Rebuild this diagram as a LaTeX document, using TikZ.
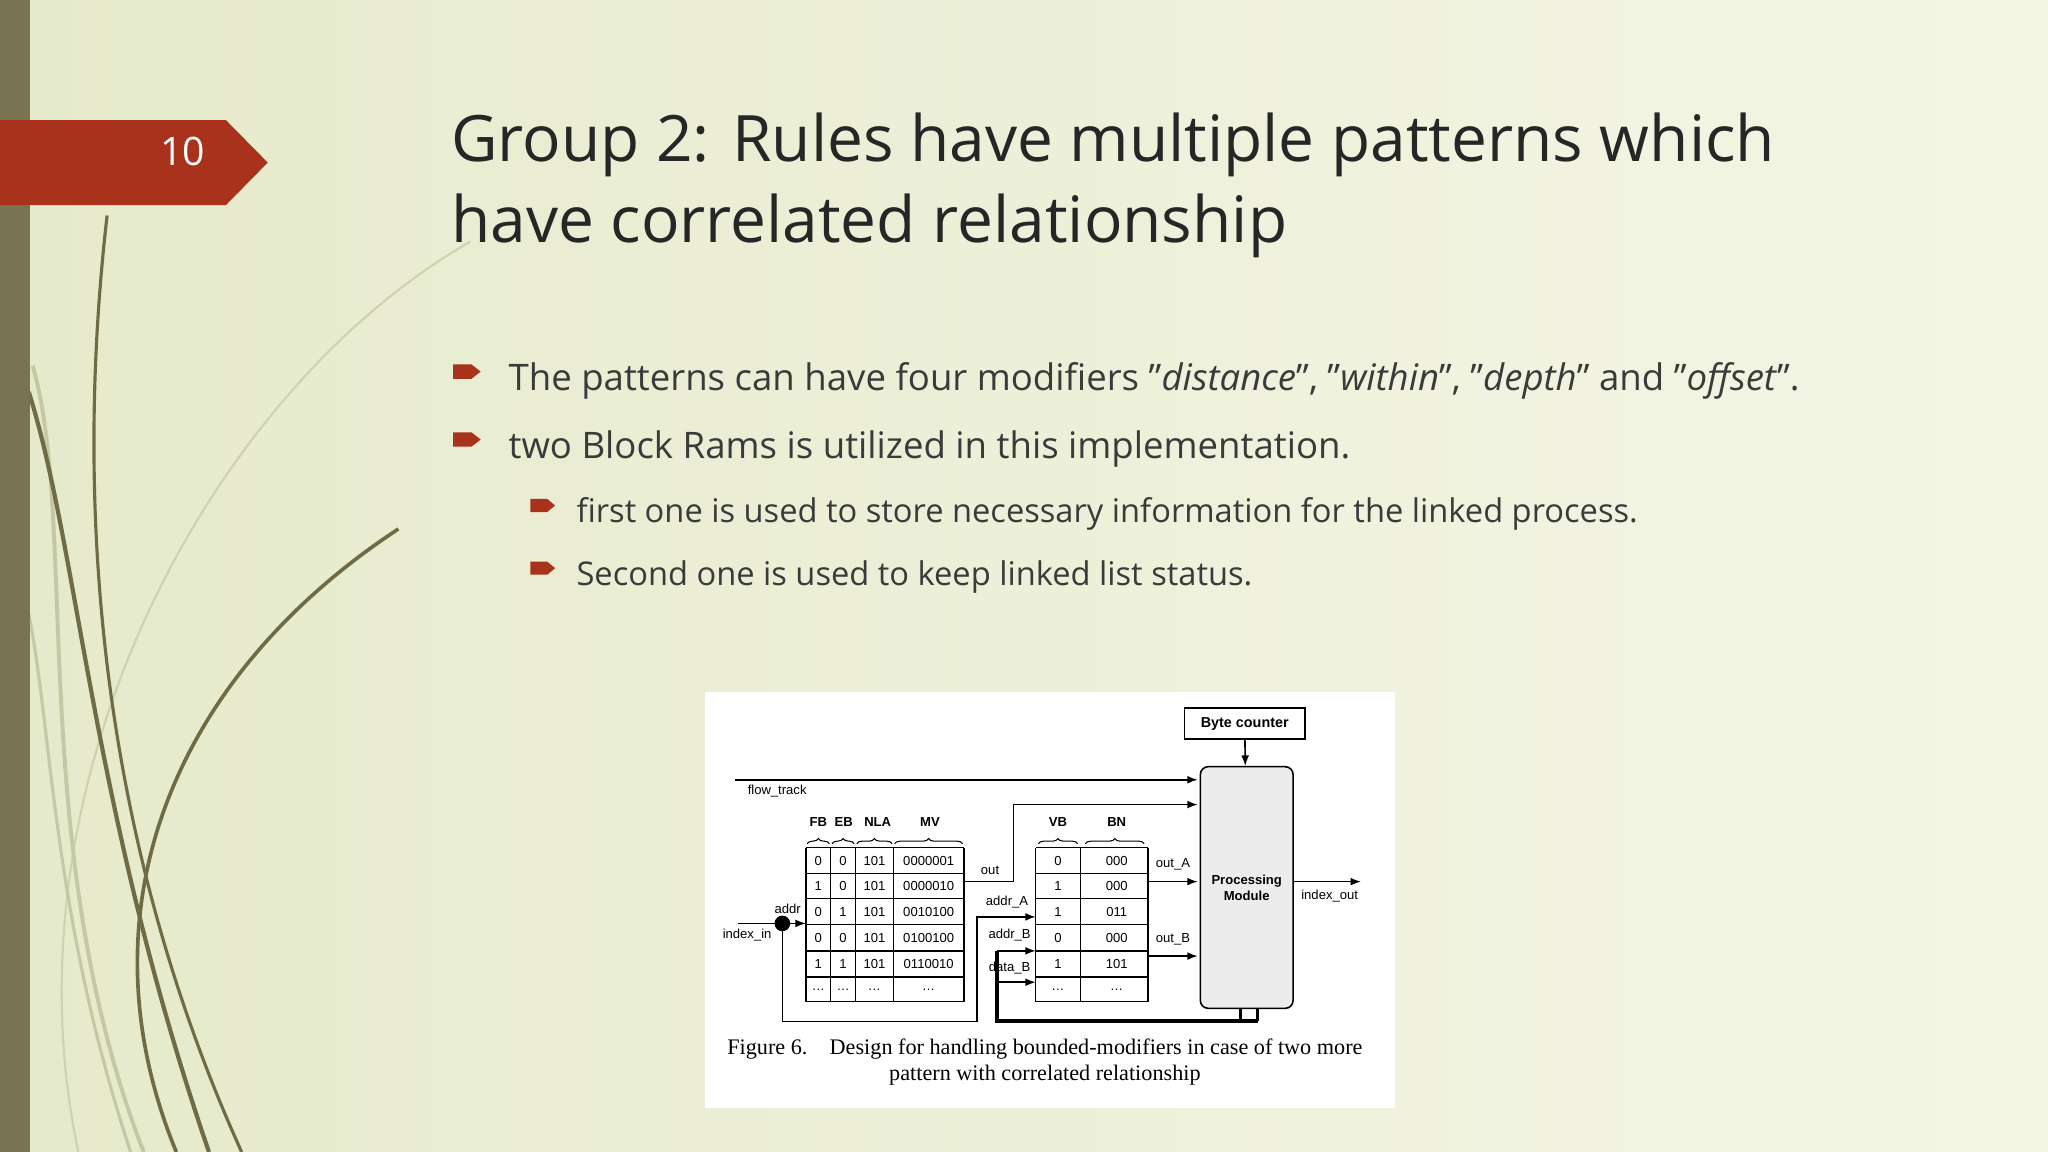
\documentclass[tikz,border=0pt]{standalone}
\usepackage{fontspec}
\setmainfont{Open Sans}
\newfontfamily\figsans{Liberation Sans}
\newfontfamily\figserif{Liberation Serif}
\usetikzlibrary{arrows.meta,decorations.pathreplacing}
\definecolor{bgL}{HTML}{E6EACB}
\definecolor{bgR}{HTML}{F4F6E6}
\definecolor{barc}{HTML}{7A7352}
\definecolor{redc}{HTML}{A8321C}
\definecolor{olive}{HTML}{6E6B45}
\definecolor{olivel}{HTML}{C4C8A4}
\definecolor{titlec}{HTML}{262626}
\definecolor{txt}{HTML}{3A3A3A}
\newcommand{\dd}{\ldots}
\tikzset{
 cell/.style={draw,line width=0.5pt},
 lab/.style={font=\figsans\fontsize{5}{6}\selectfont,inner sep=0.5pt},
 hdr/.style={font=\figsans\bfseries\fontsize{5}{6}\selectfont,inner sep=0.5pt},
 wire/.style={line width=0.6pt},
 arr/.style={wire,-{Latex[length=4pt,width=3pt]}},
 bul/.style={font=\fontsize{14}{17}\selectfont,text=txt,anchor=base west,inner sep=0},
 sbul/.style={font=\fontsize{12.5}{15}\selectfont,text=txt,anchor=base west,inner sep=0},
 brace/.style={decorate,decoration={brace,amplitude=2pt},line width=0.4pt}
}
\begin{document}
\begin{tikzpicture}[x=0.5pt,y=-0.5pt]
\useasboundingbox (0,0) rectangle (1568,882);
\shade[left color=bgL,right color=bgR] (0,0) rectangle (1568,882);
% decorative curves
\draw[olivel,line width=0.8pt,opacity=0.7] (60,882) .. controls (0,600) and (160,300) .. (360,185);
\draw[olivel,line width=1.5pt] (110,882) .. controls (20,650) and (60,400) .. (25,280);
\draw[olive,line width=1.2pt] (185,882) .. controls (80,650) and (55,400) .. (82,165);
\draw[olive,line width=1.6pt] (160,882) .. controls (70,620) and (60,420) .. (22,300);
\draw[olive,line width=1.4pt] (135,882) .. controls (60,700) and (130,520) .. (305,405);
\draw[olivel,line width=1.2pt] (100,882) .. controls (40,700) and (40,560) .. (22,470);
\fill[barc] (0,0) rectangle (23,882);
% banner
\fill[redc] (0,92) -- (173,92) -- (205,124.5) -- (173,157) -- (0,157) -- cycle;
\node[text=white,font=\fontsize{15}{18}\selectfont] (num) at (140,116) {10};
% title
\node[anchor=base west,inner sep=0,text=titlec,font=\fontsize{24.5}{30}\selectfont] (t1) at (345,124) {Group 2: Rules have multiple patterns which};
\node[anchor=base west,inner sep=0,text=titlec,font=\fontsize{24.5}{30}\selectfont] (t2) at (345,186) {have correlated relationship};
% bullets
\foreach \y in {290,342}{\fill[redc] (347,\y-11) -- (361,\y-11) -- (368,\y-5.5) -- (361,\y) -- (347,\y) -- cycle;}
\foreach \y in {392,440}{\fill[redc] (406,\y-10) -- (419,\y-10) -- (425,\y-5) -- (419,\y) -- (406,\y) -- cycle;}
\node[bul] (b1) at (389,299) {The patterns can have four modifiers "\textit{distance}", "\textit{within}", "\textit{depth}" and "\textit{offset}".};
\node[bul] (b2) at (389,351) {two Block Rams is utilized in this implementation.};
\node[sbul] (b3) at (441,400) {first one is used to store necessary information for the linked process.};
\node[sbul] (b4) at (441,448) {Second one is used to keep linked list status.};
% figure
\fill[white] (540,530) rectangle (1068,848);
\node[draw,line width=0.6pt,minimum width=46pt,minimum height=12pt,font=\figsans\bfseries\fontsize{5.5}{6}\selectfont] (bc) at (953,554) {Byte counter};
\node[draw,fill=gray!15,rounded corners=3pt,line width=0.6pt,minimum width=35.5pt,minimum height=92.5pt,align=center,font=\figsans\bfseries\fontsize{5}{6}\selectfont] (pm) at (954.5,679.5) {Processing\\Module};
\draw[arr] (bc) -- (pm);
% table 1
\foreach \x in {617,636,655,684,738} \draw[cell] (\x,649) -- (\x,767);
\foreach \y in {649,669,688,708,728,748,767} \draw[cell] (617,\y) -- (738,\y);
\foreach \y/\a/\b/\c/\d in {659/0/0/101/0000001,678.5/1/0/101/0000010,698/0/1/101/0010100,718/0/0/101/0100100,738/1/1/101/0110010,757.5/\dd/\dd/\dd/\dd}{
 \node[lab] at (626.5,\y) {\a}; \node[lab] at (645.5,\y) {\b}; \node[lab] at (669.5,\y) {\c}; \node[lab] at (711,\y) {\d};}
\node[hdr] (hfb) at (626.5,629) {FB}; \node[hdr] (heb) at (646,629) {EB}; \node[hdr] (hnla) at (672,629) {NLA}; \node[hdr] (hmv) at (712,629) {MV};
\draw[brace] (618,646) -- (635,646); \draw[brace] (637,646) -- (654,646); \draw[brace] (656,646) -- (683,646); \draw[brace] (685,646) -- (737,646);
% table 2
\foreach \x in {793,827,879} \draw[cell] (\x,649) -- (\x,767);
\foreach \y in {649,669,688,708,728,748,767} \draw[cell] (793,\y) -- (879,\y);
\foreach \y/\a/\b in {659/0/000,678.5/1/000,698/1/011,718/0/000,738/1/101,757.5/\dd/\dd}{
 \node[lab] at (810,\y) {\a}; \node[lab] at (855,\y) {\b};}
\node[hdr] (hvb) at (810,629) {VB}; \node[hdr] (hbn) at (855,629) {BN};
\draw[brace] (795,646) -- (825,646); \draw[brace] (831,646) -- (876,646);
% coordinates
\coordinate (ftS) at (563,597); \coordinate (ftE) at (917,597);
\coordinate (outS) at (738,675); \coordinate (outE) at (917,616);
\coordinate (inS) at (565,707); \coordinate (dot) at (599,707); \coordinate (t1in) at (617,707);
\coordinate (aE) at (793,702); \coordinate (bE) at (793,728); \coordinate (dE) at (793,752);
\coordinate (oAS) at (879,675); \coordinate (oAE) at (917,675);
\coordinate (oBS) at (879,732); \coordinate (oBE) at (917,732);
\coordinate (ioE) at (1042,675);
\draw[arr] (ftS) -- (ftE);
\draw[arr] (outS) -- (776,675) |- (outE);
\draw[wire] (inS) -- (dot); \draw[arr] (dot) -- (t1in);
\fill (dot) circle (3pt);
\draw[arr] (dot) |- (748,782) |- (aE);
\draw[line width=1.2pt] (950,772) -- (950,782); \draw[line width=1.2pt] (963,772) -- (963,782);
\draw[line width=1.5pt] (963,782) -- (763,782) -- (763,728);
\draw[arr] (763,728) -- (bE);
\draw[arr] (763,752) -- (dE);
\draw[arr] (oAS) -- (oAE);
\draw[arr] (oBS) -- (oBE);
\draw[arr] (pm.east |- ioE) -- (ioE);
% labels
\node[lab] (lft) at (595,606) {flow\_track};
\node[lab] (lout) at (758,666) {out};
\node[lab] (laddr) at (603,696) {addr};
\node[lab] (lin) at (572,716) {index\_in};
\node[lab] (la) at (771,691) {addr\_A};
\node[lab] (lb) at (773,716) {addr\_B};
\node[lab] (ld) at (773,741) {data\_B};
\node[lab] (loa) at (898,662) {out\_A};
\node[lab] (lob) at (898,719) {out\_B};
\node[lab] (lio) at (1018,686) {index\_out};
\node[font=\figserif\fontsize{8.5}{10}\selectfont,align=center] (cap) at (800,813) {Figure 6.\quad Design for handling bounded-modifiers in case of two more\\pattern with correlated relationship};
\end{tikzpicture}
\end{document}
